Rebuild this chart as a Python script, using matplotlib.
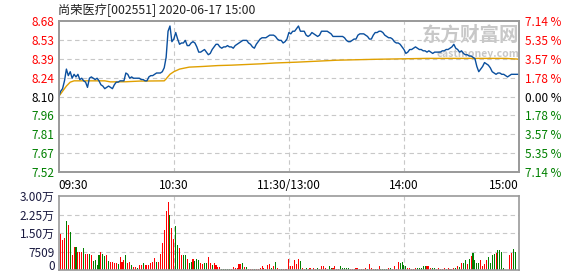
import matplotlib
matplotlib.use("Agg")
import matplotlib.pyplot as plt

plt.rcParams['font.family'] = ['Noto Sans CJK SC', 'DejaVu Sans']

title = "尚荣医疗[002551] 2020-06-17 15:00"
prev_close = 8.10

# minute prices 09:30 .. 11:30 / 13:00 .. 15:00 (241 points)
price = [
    8.10, 8.14, 8.16, 8.22, 8.31, 8.26, 8.29, 8.24, 8.27, 8.25,
    8.27, 8.23, 8.24, 8.22, 8.21, 8.17, 8.24, 8.25, 8.24, 8.23,
    8.24, 8.22, 8.19, 8.18, 8.16, 8.17, 8.18, 8.17, 8.16, 8.19,
    8.21, 8.21, 8.22, 8.22, 8.22, 8.28, 8.27, 8.24, 8.25, 8.24,
    8.24, 8.24, 8.24, 8.23, 8.23, 8.22, 8.22, 8.25, 8.26, 8.26,
    8.27, 8.28, 8.28, 8.28, 8.29, 8.32, 8.40, 8.60, 8.64, 8.52,
    8.54, 8.59, 8.54, 8.50, 8.51, 8.51, 8.53, 8.49, 8.49, 8.51,
    8.52, 8.51, 8.48, 8.44, 8.44, 8.45, 8.46, 8.44, 8.42, 8.43,
    8.46, 8.48, 8.50, 8.50, 8.48, 8.47, 8.48, 8.48, 8.49, 8.48,
    8.48, 8.47, 8.49, 8.50, 8.51, 8.52, 8.53, 8.53, 8.53, 8.51,
    8.50, 8.48, 8.47, 8.50, 8.52, 8.54, 8.55, 8.55, 8.55, 8.56,
    8.57, 8.57, 8.57, 8.56, 8.54, 8.53, 8.53, 8.51, 8.52, 8.54,
    8.59, 8.58, 8.60, 8.60, 8.62, 8.64, 8.60, 8.60, 8.60, 8.57,
    8.56, 8.57, 8.59, 8.58, 8.57, 8.56, 8.57, 8.60, 8.60, 8.60,
    8.60, 8.59, 8.58, 8.56, 8.56, 8.56, 8.56, 8.56, 8.56, 8.55,
    8.53, 8.52, 8.52, 8.53, 8.54, 8.54, 8.57, 8.58, 8.58, 8.58,
    8.57, 8.56, 8.54, 8.54, 8.57, 8.59, 8.59, 8.60, 8.60, 8.59,
    8.57, 8.56, 8.55, 8.55, 8.54, 8.52, 8.51, 8.51, 8.50, 8.48,
    8.46, 8.43, 8.44, 8.46, 8.46, 8.47, 8.48, 8.47, 8.46, 8.46,
    8.45, 8.45, 8.44, 8.45, 8.44, 8.43, 8.44, 8.44, 8.44, 8.44,
    8.45, 8.45, 8.46, 8.46, 8.47, 8.48, 8.50, 8.47, 8.46, 8.44,
    8.45, 8.43, 8.42, 8.42, 8.41, 8.41, 8.40, 8.39, 8.33, 8.29,
    8.31, 8.33, 8.36, 8.35, 8.34, 8.32, 8.29, 8.28, 8.27, 8.28,
    8.28, 8.27, 8.27, 8.26, 8.25, 8.26, 8.27, 8.27, 8.27, 8.27,
    8.27,
]

# average price line, read at these minutes
avg_t = [0, 2, 4, 6, 8, 24, 27, 35, 42, 55, 56, 58, 60, 63, 68, 75, 83, 90,
         105, 113, 124, 134, 145, 165, 192, 233, 239, 240]
avg_v = [8.10, 8.14, 8.18, 8.21, 8.22, 8.22, 8.212, 8.213, 8.218, 8.22, 8.235,
         8.27, 8.29, 8.31, 8.325, 8.33, 8.337, 8.34, 8.35, 8.357, 8.363, 8.37,
         8.378, 8.385, 8.392, 8.392, 8.387, 8.383]

# per-minute volume (shares) and direction (1 = up/red, 0 = down/green)
volume = [
    17300, 14700, 12300, 13000, 20000, 18400, 15600, 6200, 9600, 9300,
    7600, 7300, 7300, 8900, 6500, 6500, 6600, 6200, 3900, 4200,
    2200, 6200, 7600, 6600, 5800, 6100, 3800, 3200, 3400, 3100,
    3100, 2400, 5300, 3500, 4200, 6200, 2800, 3400, 2000, 1500,
    1500, 1100, 2200, 2000, 2800, 2200, 2200, 2200, 3100, 3500,
    5000, 3500, 3500, 6500, 11200, 16300, 24100, 27700, 22500, 17000,
    12600, 18000, 10300, 8900, 6200, 6200, 6200, 4500, 2800, 3500,
    4500, 3800, 4500, 4200, 2800, 2400, 3100, 3100, 5500, 2800,
    2200, 2800, 2200, 1500, 1500, 700, 700, 700, 700, 700,
    700, 1350, 1100, 1100, 2400, 2600, 2800, 1500, 1200, 540,
    540, 540, 540, 540, 540, 800, 1600, 1100, 700, 2000,
    2400, 1100, 1600, 3400, 1100, 700, 700, 540, 540, 540,
    4600, 1600, 1600, 4100, 2400, 4500, 3800, 1100, 700, 1100,
    540, 800, 300, 1100, 540, 1100, 540, 1600, 1600, 800,
    540, 1600, 800, 800, 1600, 540, 540, 1600, 1100, 1100,
    1100, 1100, 540, 540, 540, 1100, 800, 540, 540, 540,
    1100, 540, 2400, 1100, 540, 540, 540, 1600, 540, 540,
    540, 540, 800, 1100, 540, 1600, 540, 3500, 3000, 3300,
    2200, 1600, 1100, 800, 540, 540, 800, 800, 800, 1100,
    1600, 1600, 1900, 1900, 1100, 1100, 1100, 540, 800, 540,
    540, 1100, 540, 800, 540, 540, 800, 1100, 1600, 1400,
    3000, 3000, 4300, 2700, 4600, 6000, 7100, 4300, 3000, 3000,
    4100, 1900, 2700, 4100, 5200, 3000, 6300, 6500, 7100, 8200,
    8400, 7600, 800, 300, 300, 6200, 6900, 8800, 7400, 300,
    12200,
]
up = [
    1, 1, 1, 1, 0, 1, 0, 1, 1, 0,
    1, 1, 1, 0, 1, 1, 0, 1, 0, 0,
    0, 0, 1, 0, 0, 1, 0, 1, 1, 1,
    1, 0, 1, 1, 1, 0, 1, 1, 0, 1,
    1, 0, 1, 1, 0, 1, 1, 1, 1, 1,
    1, 0, 1, 1, 1, 1, 1, 1, 0, 1,
    1, 0, 0, 1, 1, 0, 0, 1, 0, 0,
    1, 0, 0, 0, 1, 1, 0, 0, 1, 1,
    0, 1, 1, 1, 1, 0, 0, 0, 0, 0,
    1, 1, 1, 1, 1, 1, 0, 1, 0, 1,
    1, 1, 0, 1, 1, 1, 1, 1, 0, 1,
    1, 0, 1, 0, 1, 1, 0, 1, 1, 1,
    1, 1, 1, 1, 1, 1, 0, 1, 1, 0,
    1, 1, 1, 1, 1, 0, 1, 1, 1, 1,
    1, 0, 0, 1, 1, 1, 1, 0, 0, 0,
    0, 0, 1, 1, 1, 1, 1, 1, 1, 1,
    1, 0, 1, 1, 1, 0, 1, 1, 0, 0,
    0, 0, 1, 0, 1, 1, 1, 1, 0, 0,
    0, 0, 1, 1, 1, 1, 1, 0, 0, 0,
    0, 0, 1, 1, 1, 0, 0, 1, 1, 1,
    1, 1, 0, 1, 1, 1, 1, 0, 1, 0,
    1, 0, 0, 1, 0, 1, 0, 0, 0, 0,
    1, 1, 1, 1, 0, 0, 0, 0, 1, 0,
    0, 0, 0, 1, 1, 1, 1, 0, 0, 1,
    1,
]

price_labels = ["8.68", "8.53", "8.39", "8.24", "8.10", "7.96", "7.81", "7.67", "7.52"]
pct_labels = ["7.14 %", "5.35 %", "3.57 %", "1.78 %", "0.00 %", "1.78 %", "3.57 %", "5.35 %", "7.14 %"]
time_labels = ["09:30", "10:30", "11:30/13:00", "14:00", "15:00"]
vol_labels = ["0", "7509", "1.50万", "2.25万", "3.00万"]

RED = "#ff0000"
GREEN = "#008000"
GRID = "#c8c8c8"
FRAME = "#999999"
minutes = list(range(len(price)))

fig = plt.figure(figsize=(5.78, 2.76), dpi=100)
ax = fig.add_axes([0.1016, 0.3768, 0.7964, 0.5471])
axv = fig.add_axes([0.1016, 0.0207, 0.7964, 0.2681])

lo, hi = prev_close * (1 - 0.0714), prev_close * (1 + 0.0714)
step = (hi - lo) / 8
yt = [hi - i * step for i in range(9)]

# watermark
ax.text(1.0, 0.905, "东方财富网", transform=ax.transAxes, ha="right", va="center",
        fontsize=14, color="#c8c8c8", fontweight="bold", zorder=0)
ax.text(1.0, 0.78, "eastmoney.com", transform=ax.transAxes, ha="right", va="center",
        fontsize=7.5, color="#c8c8c8", fontweight="bold", zorder=0)

ax.plot(minutes, price, color="#0a4f9e", lw=1.0, zorder=3)
ax.plot(avg_t, avg_v, color="#e0a000", lw=1.0, zorder=2)
ax.set_xlim(0, 240)
ax.set_ylim(lo, hi)
ax.set_yticks(yt)
ax.set_yticklabels(price_labels)
for i, lab in enumerate(ax.get_yticklabels()):
    lab.set_color(RED if i < 4 else ("black" if i == 4 else GREEN))
ax.set_xticks([0, 60, 120, 180, 240])
ax.set_xticklabels(time_labels)
xl = ax.get_xticklabels()
xl[0].set_ha("left")
xl[-1].set_ha("right")
ax.tick_params(length=0, labelsize=8.5, pad=3)
ax.tick_params(axis="x", pad=5)

ax2 = ax.twinx()
ax2.set_ylim(lo, hi)
ax2.set_yticks(yt)
ax2.set_yticklabels(pct_labels)
for i, lab in enumerate(ax2.get_yticklabels()):
    lab.set_color(RED if i < 4 else ("black" if i == 4 else GREEN))
ax2.tick_params(length=0, labelsize=8.5, pad=4)

for y in yt[1:-1]:
    ax.axhline(y, color=GRID, lw=0.8, ls=(0, (4, 3)), zorder=1)
for x in [60, 120, 180]:
    ax.axvline(x, color=GRID, lw=0.8, ls=(0, (4, 3)), zorder=1)

colors = [RED if u else GREEN for u in up]
axv.bar(minutes, volume, width=0.55, color=colors, zorder=2)
vmax = 30036
axv.set_xlim(0, 240)
axv.set_ylim(0, vmax)
axv.set_yticks([0, vmax / 4, vmax / 2, vmax * 3 / 4, vmax])
axv.set_yticklabels(vol_labels)
axv.set_xticks([])
axv.tick_params(length=0, labelsize=8.5, pad=3, labelcolor="#1a1a40")
axv.get_yticklabels()[0].set_va("baseline")
for y in [vmax / 4, vmax / 2, vmax * 3 / 4]:
    axv.axhline(y, color=GRID, lw=0.8, ls=(0, (4, 3)), zorder=1)
for x in [60, 120, 180]:
    axv.axvline(x, color=GRID, lw=0.8, ls=(0, (4, 3)), zorder=1)

for a in (ax, ax2, axv):
    for s in a.spines.values():
        s.set_color(FRAME)
        s.set_linewidth(1.2)

fig.text(58 / 578, 1 - 10 / 276, title, ha="left", va="center", fontsize=8.8, color="#222222")

fig.savefig("out.png", dpi=100)
